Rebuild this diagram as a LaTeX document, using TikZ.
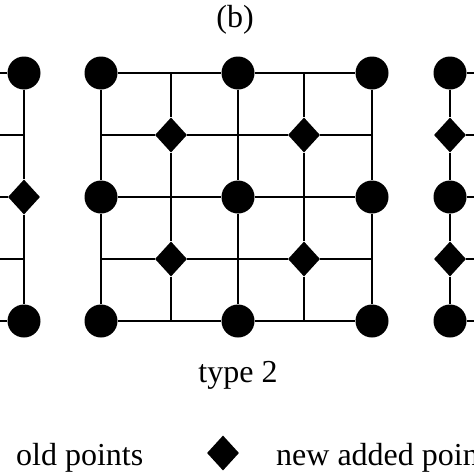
\documentclass[tikz,border=0pt]{standalone}
\usepackage{fontspec}
\setmainfont{Liberation Serif}
\usetikzlibrary{shapes.geometric}

\begin{document}
\begin{tikzpicture}[x=1pt, y=-1pt,
    oldpt/.style={circle, fill=black, inner sep=0pt, minimum size=33pt},
    newpt/.style={diamond, fill=black, inner sep=0pt, minimum width=32pt, minimum height=35pt},
    joint/.style={coordinate},
    pt0/.style={oldpt}, pt1/.style={joint}, pt2/.style={newpt},
    gridline/.style={draw, line width=1.6pt},
    plaintext/.style={inner sep=0pt, font=\fontsize{32}{38}\selectfont}
    ]
    \useasboundingbox (0,0) rectangle (474,474);
    \clip (0,0) rectangle (474,474);

    % Titles
    \node [plaintext, anchor=base] (title) at (235,27) {(b)};
    \node [plaintext, anchor=base] (type) at (238,382) {type 2};

    % Middle grid: old points on even rows/cols, new points on odd ones
    \foreach \r/\y in {0/73,1/135,2/197,3/259,4/321}
      \foreach \c/\x in {0/101,1/171,2/238,3/304,4/372} {
        \pgfmathtruncatemacro\kind{mod(\r,2)+mod(\c,2)}
        \node [pt\kind] (m-\r-\c) at (\x,\y) {};
      }
    \foreach \i in {0,...,4} {
      \draw[gridline] (m-\i-0) -- (m-\i-1) -- (m-\i-2) -- (m-\i-3) -- (m-\i-4);
      \draw[gridline] (m-0-\i) -- (m-1-\i) -- (m-2-\i) -- (m-3-\i) -- (m-4-\i);
    }

    % Left grid (cut off)
    \node [oldpt] (l-0) at (24,73) {};
    \coordinate (l-1) at (24,135);
    \node [newpt] (l-2) at (24,197) {};
    \coordinate (l-3) at (24,259);
    \node [oldpt] (l-4) at (24,321) {};
    \draw[gridline] (l-0) -- (l-1) -- (l-2) -- (l-3) -- (l-4);
    \foreach \r/\y in {0/73,1/135,2/197,3/259,4/321} {
      \coordinate (l-\r-end) at (-20,\y);
      \draw[gridline] (l-\r) -- (l-\r-end);
    }

    % Right grid (cut off)
    \foreach \r/\y in {0/73,1/135,2/197,3/259,4/321} {
      \pgfmathtruncatemacro\kind{2*mod(\r,2)}
      \node [pt\kind] (r-\r) at (450,\y) {};
      \coordinate (r-\r-end) at (494,\y);
      \draw[gridline] (r-\r) -- (r-\r-end);
    }
    \draw[gridline] (r-0) -- (r-1) -- (r-2) -- (r-3) -- (r-4);

    % Legend
    \node [plaintext, anchor=base west] (oldlbl) at (16,465) {old points};
    \node [newpt] (newkey) at (223,453) {};
    \node [plaintext, anchor=base west] (newlbl) at (276,465) {new added points};
\end{tikzpicture}
\end{document}
